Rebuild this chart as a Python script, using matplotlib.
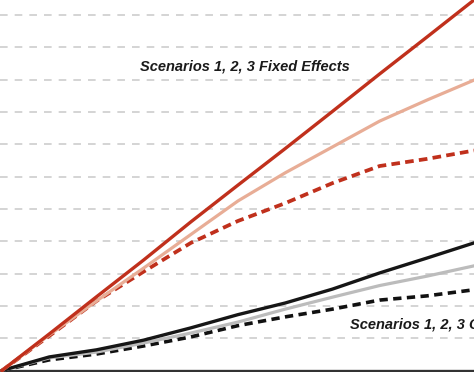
import matplotlib
matplotlib.use("Agg")
import matplotlib.pyplot as plt

# Data (arbitrary units; one unit = one gridline step)
t = [0, 2, 4, 6, 8, 10, 12, 14, 16, 18, 20]
fe_s1 = [0, 1.13, 2.28, 3.42, 4.60, 5.74, 6.87, 8.02, 9.18, 10.32, 11.47]
fe_s2 = [0, 1.10, 2.15, 3.17, 4.21, 5.25, 6.12, 6.92, 7.72, 8.37, 8.99]
fe_s3 = [0, 1.07, 2.15, 3.06, 3.95, 4.63, 5.18, 5.80, 6.33, 6.55, 6.81]
cs_s1 = [0, 0.42, 0.64, 0.94, 1.32, 1.73, 2.09, 2.52, 3.02, 3.48, 3.95]
cs_s2 = [0, 0.39, 0.57, 0.85, 1.16, 1.50, 1.90, 2.27, 2.63, 2.92, 3.24]
cs_s3 = [0, 0.33, 0.51, 0.76, 1.04, 1.39, 1.66, 1.90, 2.18, 2.31, 2.50]
grid_levels = list(range(1, 12))
label_fe = "Scenarios 1, 2, 3 Fixed Effects"
label_cs = "Scenarios 1, 2, 3 Cross-Sectional"

fig = plt.figure(figsize=(4.74, 3.72), dpi=100)
ax = fig.add_axes([0, 0, 1, 1])
ax.set_xlim(-0.085, 20)
ax.set_ylim(-0.046, 11.47)

for g in grid_levels:
    ax.axhline(g, color="#c9c9c9", lw=1.1, dashes=(5.0, 4.6), zorder=1)
ax.axhline(0, color="#333333", lw=2.4, zorder=2)

red = "#c0301c"
ax.plot(t, cs_s3, color="#111111", lw=2.6, dashes=(2.3, 1.5), zorder=3)
ax.plot(t, cs_s2, color="#bcbcbc", lw=2.3, zorder=3)
ax.plot(t, cs_s1, color="#161616", lw=2.4, zorder=4)
ax.plot(t, fe_s3, color=red, lw=2.7, dashes=(2.3, 1.4), zorder=3)
ax.plot(t, fe_s2, color="#e8ad96", lw=2.3, zorder=4)
ax.plot(t, fe_s1, color=red, lw=2.4, zorder=5)

font = dict(family=["Liberation Sans", "DejaVu Sans"], style="italic",
            weight="bold", size=10.5, color="#1a1a1a")
ax.text(10.3, 9.30, label_fe, ha="center", va="baseline", **font)
ax.text(14.75, 1.29, label_cs, ha="left", va="baseline", **font)

ax.set_axis_off()
fig.savefig("out.png", dpi=100)
